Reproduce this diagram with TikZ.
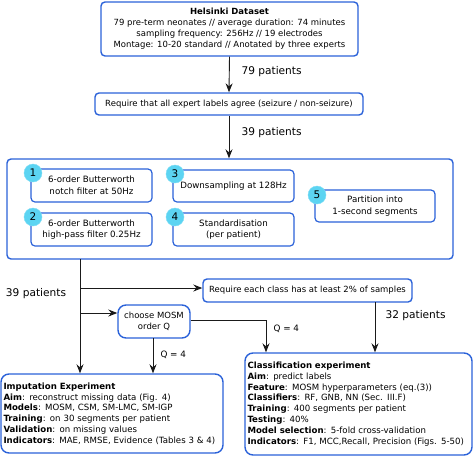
\documentclass[tikz,border=0pt]{standalone}
\usepackage{fontspec}
\setmainfont{DejaVu Sans}
\usetikzlibrary{arrows.meta}
\definecolor{boxblue}{HTML}{2B62D9}
\definecolor{badge}{HTML}{5CD4F2}
\definecolor{linec}{HTML}{1A1A1A}
\begin{document}
\begin{tikzpicture}[x=1pt,y=-1pt,
  box/.style={draw=boxblue,line width=1.4pt,rounded corners=4pt,fill=white,inner sep=0pt,align=center,font=\fontsize{8.5}{11}\selectfont},
  subbox/.style={box,line width=1.2pt,minimum width=121pt,minimum height=33pt,font=\fontsize{8.7}{11.5}\selectfont},
  bigexp/.style={box,rounded corners=8pt,align=left,font=\fontsize{8.6}{10.8}\selectfont},
  badgec/.style={circle,fill=badge,draw=badge!80!white,minimum size=18pt,inner sep=0pt,font=\fontsize{10.5}{10.5}\selectfont},
  arr/.style={draw=linec,line width=0.9pt,-{Stealth[length=9pt,width=7pt,inset=3pt]}},
  ln/.style={draw=linec,line width=0.9pt},
  lab/.style={font=\fontsize{10.6}{12}\selectfont},
  qlab/.style={font=\fontsize{8.8}{10}\selectfont}]
\useasboundingbox (0,0) rectangle (474,456);
% top dataset box
\node[box,minimum width=257pt,minimum height=54pt] (ds) at (229.5,29)
  {\textbf{Helsinki Dataset}\\79 pre-term neonates // average duration: 74 minutes\\sampling frequency: 256Hz // 19 electrodes\\Montage: 10-20 standard // Anotated by three experts};
\node[box,minimum width=268pt,minimum height=22pt] (agree) at (229,104)
  {Require that all expert labels agree (seizure / non-seizure)};
% preprocessing container
\node[box,minimum width=446pt,minimum height=100pt] (pre) at (230,209) {};
\node[subbox] (s1) at (91.5,185.5) {6-order Butterworth\\notch filter at 50Hz};
\node[subbox] (s2) at (91.5,229.5) {6-order Butterworth\\high-pass filter 0.25Hz};
\node[subbox,minimum height=32pt] (s3) at (233.5,186) {Downsampling at 128Hz};
\node[subbox] (s4) at (233.5,229.5) {Standardisation\\(per patient)};
\node[subbox,minimum width=120pt,minimum height=32pt] (s5) at (375,206) {Partition into\\1-second segments};
\node[badgec] (b1) at (33,173) {1};
\node[badgec] (b2) at (33,217) {2};
\node[badgec] (b3) at (175,174) {3};
\node[badgec] (b4) at (175,217) {4};
\node[badgec] (b5) at (317,195) {5};
% lower part
\node[box,minimum width=209pt,minimum height=23pt] (req) at (307.5,290.5)
  {Require each class has at least 2\% of samples};
\node[box,rounded corners=8pt,minimum width=72pt,minimum height=33pt] (mosm) at (154,321.5)
  {choose MOSM\\order Q};
\node[bigexp,minimum width=222pt,minimum height=79pt,text width=217pt] (imp) at (112,413.5)
  {\textbf{Imputation Experiment}\\
   \textbf{Aim}: reconstruct missing data (Fig. 4)\\
   \textbf{Models}: MOSM, CSM, SM-LMC, SM-IGP\\
   \textbf{Training}: on 30 segments per patient\\
   \textbf{Validation}: on missing values\\
   \textbf{Indicators}: MAE, RMSE, Evidence (Tables 3 \& 4)};
\node[bigexp,minimum width=227pt,minimum height=102pt,text width=222pt] (cls) at (358.5,404)
  {\textbf{Classification experiment}\\
   \textbf{Aim}: predict labels\\
   \textbf{Feature}: MOSM hyperparameters (eq.(3))\\
   \textbf{Classifiers}: RF, GNB, NN (Sec. III.F)\\
   \textbf{Training}: 400 segments per patient\\
   \textbf{Testing}: 40\%\\
   \textbf{Model selection}: 5-fold cross-validation\\
   \textbf{Indicators}: F1, MCC,Recall, Precision (Figs. 5-50)};
% connectors
\draw[arr] (ds.south) -- (agree.north);
\node[lab,anchor=west] (l79) at (238,72) {79 patients};
\draw[arr] (agree.south) -- (agree.south |- pre.north);
\node[lab,anchor=west] (l39a) at (238,133) {39 patients};
\coordinate (split) at (80,259);
\draw[arr] (split) -- (split |- imp.north);
\coordinate (br1) at (80,288);
\coordinate (br2) at (80,313);
\draw[arr] (br1) -- (br1 -| req.west);
\draw[arr] (br2) -- (br2 -| mosm.west);
\node[lab] (l39b) at (36,294) {39 patients};
\coordinate (rq) at (375,302);
\draw[arr] (rq) -- (rq |- cls.north);
\node[lab,anchor=west] (l32) at (382,316) {32 patients};
\coordinate (mr) at (266,320);
\draw[ln] (mosm.east |- mr) -- (mr);
\draw[arr] (mr) -- (mr |- cls.north);
\node[qlab,anchor=west] (q1) at (270,329) {Q = 4};
\coordinate (mb) at (153,338);
\draw[arr] (mb) -- (mb |- imp.north);
\node[qlab,anchor=west] (q2) at (157,355) {Q = 4};
\end{tikzpicture}
\end{document}
